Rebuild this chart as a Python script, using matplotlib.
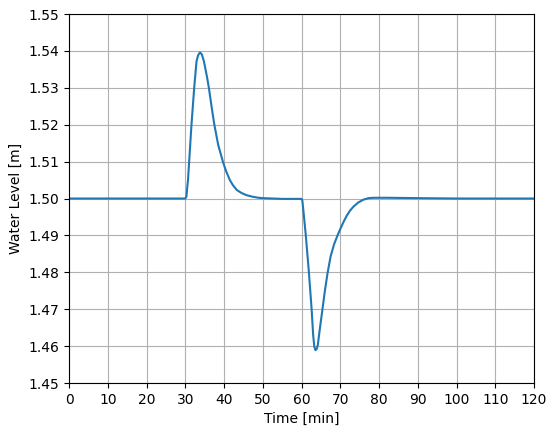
import matplotlib
matplotlib.use("Agg")
import matplotlib.pyplot as plt
from matplotlib.ticker import FormatStrFormatter

# water level
time_min = [0, 10, 20, 30, 30.3, 30.5, 30.7, 31.0, 31.6, 32.3, 32.9, 33.3,
            33.8, 34.3, 34.8, 35.3, 35.7, 36.1, 36.8, 37.5, 38.5, 39.7, 40.5,
            41.5, 42.3, 43.3, 44.5, 45.8, 47.3, 48.9, 50, 55, 60, 60.2, 60.5,
            61.1, 61.9, 62.6, 63.0, 63.3, 63.6, 63.9, 64.2, 64.7, 65.4, 66.0,
            66.7, 67.5, 68.4, 69.4, 70.2, 71.0, 71.7, 72.5, 73.4, 74.6, 76.0,
            77.3, 78.6, 82, 90, 100, 110, 120]
level_m = [1.5, 1.5, 1.5, 1.5, 1.5005, 1.5030, 1.5050, 1.5100, 1.5200, 1.5300,
           1.5372, 1.5388, 1.5396, 1.5390, 1.5372, 1.5346, 1.5324, 1.5299,
           1.5248, 1.5200, 1.5145, 1.5100, 1.5075, 1.5050, 1.5036, 1.5023,
           1.5015, 1.5009, 1.5005, 1.5002, 1.5001, 1.4999, 1.4999, 1.4995,
           1.4965, 1.4900, 1.4800, 1.4700, 1.4630, 1.4598, 1.4589, 1.4592,
           1.4603, 1.4645, 1.4700, 1.4748, 1.4797, 1.4843, 1.4876, 1.4903,
           1.4922, 1.4940, 1.4954, 1.4967, 1.4978, 1.4989, 1.4997, 1.5001,
           1.5002, 1.5002, 1.5001, 1.5000, 1.5000, 1.5000]

fig, ax = plt.subplots(figsize=(5.5, 4.3), dpi=100)
fig.subplots_adjust(left=0.1255, right=0.971, top=0.9674, bottom=0.1093)

ax.plot(time_min, level_m)
ax.set_xlim(0, 120)
ax.set_ylim(1.45, 1.55)
ax.set_xticks(range(0, 121, 10))
ax.set_yticks([1.45 + 0.01 * i for i in range(11)])
ax.yaxis.set_major_formatter(FormatStrFormatter("%.2f"))
ax.set_xlabel("Time [min]")
ax.set_ylabel("Water Level [m]")
ax.grid(True)

fig.savefig("out.png", dpi=100)
